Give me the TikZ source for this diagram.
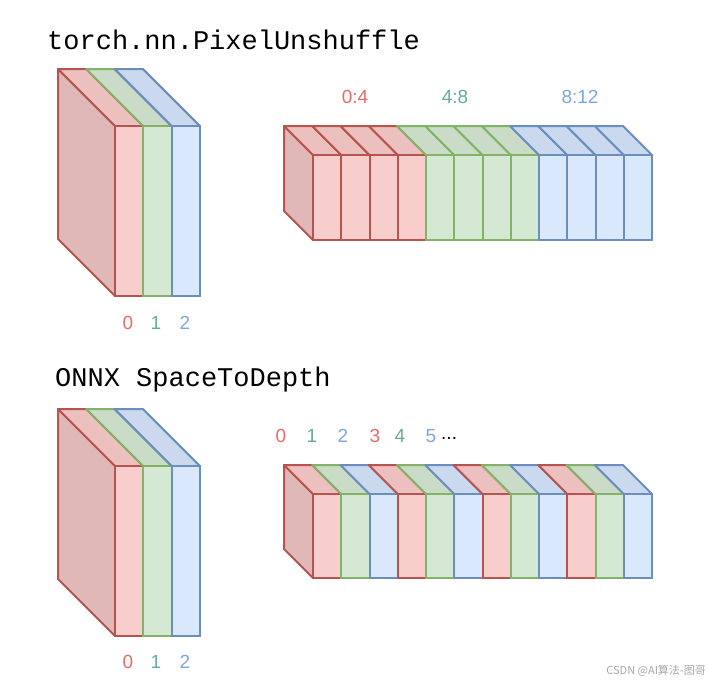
\documentclass[tikz,border=0pt]{standalone}
\usepackage{fontspec}
\setmonofont{Liberation Mono}
\setsansfont{Liberation Sans}
\newfontfamily\cjk{Noto Sans CJK SC}
\definecolor{rf}{HTML}{F8CECC}\definecolor{rs}{HTML}{B85450}\definecolor{rt}{HTML}{EBC0BF}
\definecolor{gf}{HTML}{D5E8D4}\definecolor{gs}{HTML}{82B366}\definecolor{gt}{HTML}{CADCC8}
\definecolor{bf}{HTML}{DAE8FC}\definecolor{bs}{HTML}{6C8EBF}\definecolor{bt}{HTML}{CBD9EE}
\definecolor{side}{HTML}{DFB8B7}
\definecolor{lr}{HTML}{EA6B66}\definecolor{lg}{HTML}{67AB9F}\definecolor{lb}{HTML}{7EA6E0}
\tikzset{title/.style={font=\ttfamily\fontsize{27}{30}\selectfont,anchor=west,inner sep=0},
lab/.style={font=\sffamily\fontsize{19}{22}\selectfont,inner sep=0}}
% slice: #1 front-left x, #2 width, #3 front top y, #4 front bottom y, #5 depth, #6 color prefix
\newcommand\myslice[6]{%
 \filldraw[line width=2pt,line join=round,fill=#6t,draw=#6s] (#1-#5,#3-#5) -- (#1+#2-#5,#3-#5) -- (#1+#2,#3) -- (#1,#3) -- cycle;
 \filldraw[line width=2pt,fill=#6f,draw=#6s] (#1,#3) rectangle (#1+#2,#4);}
\newcommand\myside[4]{% x, top, bottom, depth
 \filldraw[line width=2pt,line join=round,fill=side,draw=rs] (#1-#4,#2-#4) -- (#1,#2) -- (#1,#3) -- (#1-#4,#3-#4) -- cycle;}
\begin{document}
\begin{tikzpicture}[x=1pt,y=-1pt]
\useasboundingbox (0,0) rectangle (711,685);
\node[title] (t1) at (47,40) {torch.nn.PixelUnshuffle};
\node[title] (t2) at (55,380) {ONNX SpaceToDepth};
% left blocks
\foreach \oy in {0,340}{
 \myside{115}{126+\oy}{296+\oy}{57}
 \myslice{115}{28.3}{126+\oy}{296+\oy}{57}{r}
 \myslice{143.3}{28.3}{126+\oy}{296+\oy}{57}{g}
 \myslice{171.6}{28.3}{126+\oy}{296+\oy}{57}{b}
}
% top-right row
\myside{313}{155}{240}{29}
\foreach \i in {0,...,11}{
 \pgfmathtruncatemacro\g{int(\i/4)}
 \ifcase\g \def\c{r}\or \def\c{g}\else \def\c{b}\fi
 \myslice{313+28.25*\i}{28.25}{155}{240}{29}{\c}
}
% bottom-right row
\myside{313}{494}{578}{29}
\foreach \i in {0,...,11}{
 \pgfmathtruncatemacro\g{mod(\i,3)}
 \ifcase\g \def\c{r}\or \def\c{g}\else \def\c{b}\fi
 \myslice{313+28.25*\i}{28.25}{494}{578}{29}{\c}
}
% labels
\foreach \oy/\n in {0/a,339/b}{
 \node[lab,text=lr] (\n0) at (128,323+\oy) {0};
 \node[lab,text=lg] (\n1) at (156,323+\oy) {1};
 \node[lab,text=lb] (\n2) at (185,323+\oy) {2};
}
\node[lab,text=lr] (r04) at (355,97) {0:4};
\node[lab,text=lg] (r48) at (455,97) {4:8};
\node[lab,text=lb] (r812) at (580,97) {8:12};
\node[lab,text=lr] (c0) at (281,436) {0};
\node[lab,text=lg] (c1) at (312,436) {1};
\node[lab,text=lb] (c2) at (343,436) {2};
\node[lab,text=lr] (c3) at (375,436) {3};
\node[lab,text=lg] (c4) at (400,436) {4};
\node[lab,text=lb] (c5) at (431,436) {5};
\node[lab,anchor=west] (cd) at (441,438) {...};
\node[font=\cjk\fontsize{11}{13}\selectfont,text=gray!70,anchor=east,inner sep=0] (wm) at (706,671) {CSDN @AI算法-图哥};
\end{tikzpicture}
\end{document}
